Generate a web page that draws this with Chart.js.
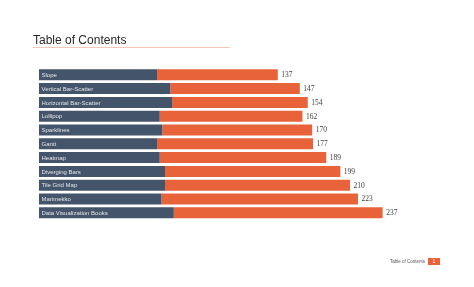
<!DOCTYPE html>
<html>
<head>
<meta charset="utf-8">
<script src="https://cdn.jsdelivr.net/npm/chart.js@4/dist/chart.umd.min.js"></script>
<style>
  html, body { margin: 0; padding: 0; background: #fff; }
  #wrap { position: relative; width: 474px; height: 287px; overflow: hidden; }
  #title { position: absolute; left: 33px; top: 33px; font: 12px Arial, "Liberation Sans", sans-serif; color: #262626; white-space: nowrap; }
  #rule { position: absolute; left: 33px; top: 47px; width: 197px; height: 1px; background: #f3c7b8; }
  #foot { position: absolute; left: 390px; top: 259px; font: 4.5px Arial, "Liberation Sans", sans-serif; color: #595959; white-space: nowrap; }
  #page { position: absolute; left: 428px; top: 258px; width: 12px; height: 7px; background: #e8623a; color: #fff; font: 4.5px Arial, sans-serif; text-align: center; line-height: 7px; }
  #c { position: absolute; left: 0; top: 0; }
</style>
</head>
<body>
<div id="wrap">
  <canvas id="c" width="474" height="287"></canvas>
  <div id="title">Table of Contents</div>
  <div id="rule"></div>
  <div id="foot">Table of Contents</div>
  <div id="page">1</div>
</div>
<script>
const categories = ['Slope', 'Vertical Bar-Scatter', 'Horizontal Bar-Scatter', 'Lollipop', 'Sparklines', 'Gantt',
  'Heatmap', 'Diverging Bars', 'Tile Grid Map', 'Marimekko', 'Data Visualization Books'];
const values = [137, 147, 154, 162, 170, 177, 189, 199, 210, 223, 237];
// width of the dark label segment, in the same units as the values
const labelBand = [134, 149, 151, 137, 140, 134, 137, 143, 143, 139, 153];

const dark = '#44546a';
const orange = '#e8623a';

const labelPlugin = {
  id: 'labels',
  afterDatasetsDraw(chart) {
    const ctx = chart.ctx;
    const darkMeta = chart.getDatasetMeta(0);
    const valMeta = chart.getDatasetMeta(1);
    ctx.save();
    ctx.textBaseline = 'middle';
    darkMeta.data.forEach((bar, i) => {
      ctx.fillStyle = '#e4e6ea';
      ctx.font = '6px Arial, "Liberation Sans", sans-serif';
      ctx.textAlign = 'left';
      ctx.fillText(categories[i], bar.base + 2.5, bar.y + 0.5);
    });
    valMeta.data.forEach((bar, i) => {
      ctx.fillStyle = '#404040';
      ctx.font = '7.5px "Times New Roman", "Liberation Serif", serif';
      ctx.textAlign = 'left';
      ctx.fillText(values[i], bar.x + 3.5, bar.y + 0.5);
    });
    ctx.restore();
  }
};

new Chart(document.getElementById('c'), {
  type: 'bar',
  data: {
    labels: categories,
    datasets: [
      { data: labelBand, backgroundColor: dark, barPercentage: 0.8, categoryPercentage: 1.0 },
      { data: values, backgroundColor: orange, barPercentage: 0.8, categoryPercentage: 1.0 }
    ]
  },
  options: {
    indexAxis: 'y',
    responsive: false,
    animation: false,
    layout: { padding: { left: 39, right: 38.5, top: 67.9, bottom: 67.3 } },
    plugins: { legend: { display: false }, tooltip: { enabled: false } },
    scales: {
      x: { stacked: true, min: 0, max: 450, display: false },
      y: { stacked: true, display: false }
    }
  },
  plugins: [labelPlugin]
});
</script>
</body>
</html>
